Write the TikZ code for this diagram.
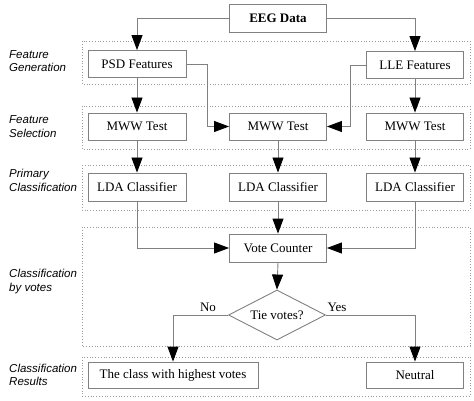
\documentclass[tikz,border=0pt]{standalone}
\usepackage{fontspec}
\setmainfont{Liberation Serif}
\newfontfamily\labfont{Liberation Sans}
\usetikzlibrary{arrows.meta,shapes.geometric}
\definecolor{linegray}{HTML}{808080}
\definecolor{dotgray}{HTML}{9A9A9A}
\begin{document}
\begin{tikzpicture}[x=1pt,y=-1pt,
  box/.style={draw=linegray,line width=0.9pt,rectangle,minimum height=27pt,inner sep=0pt,
    font=\fontsize{13}{15}\selectfont},
  boxn/.style={box,minimum width=97pt},
  grp/.style={draw=dotgray,dotted,line width=0.8pt},
  lab/.style={anchor=west,align=left,inner sep=0pt,font=\labfont\itshape\fontsize{11.5}{13.5}\selectfont},
  conn/.style={draw=linegray,line width=0.9pt,-{Triangle[length=15pt,width=11pt,color=black,fill=black]}},
  yn/.style={inner sep=0pt,font=\fontsize{13}{15}\selectfont}
]
\useasboundingbox (0,0) rectangle (474,401);
% groups
\draw[grp] (82,41) rectangle (470,84);
\draw[grp] (82,106) rectangle (470,149);
\draw[grp] (82,165) rectangle (470,210);
\draw[grp] (82,227) rectangle (470,346);
\draw[grp] (82,357) rectangle (470,396);
% side labels
\node[lab] (l1) at (9,61) {Feature\\Generation};
\node[lab] (l2) at (9,126.5) {Feature\\Selection};
\node[lab] (l3) at (9,180.5) {Primary\\Classification};
\node[lab] (l4) at (9,281.5) {Classification\\by votes};
\node[lab] (l5) at (9,375) {Classification\\Results};
% nodes
\node[boxn,minimum height=28pt] (eeg) at (278,18) {\textbf{EEG Data}};
\node[boxn,minimum width=98pt] (psd) at (137,64) {PSD Features};
\node[boxn] (lle) at (415,65) {LLE Features};
\node[boxn,minimum width=98pt] (mww1) at (137,126.5) {MWW Test};
\node[boxn] (mww2) at (278,126.5) {MWW Test};
\node[boxn] (mww3) at (415,126.5) {MWW Test};
\node[boxn,minimum width=98pt,minimum height=28pt] (lda1) at (137,187) {LDA Classifier};
\node[boxn,minimum height=28pt] (lda2) at (278,187) {LDA Classifier};
\node[boxn,minimum height=28pt] (lda3) at (415,187) {LDA Classifier};
\node[boxn,minimum height=28pt] (vc) at (278,248) {Vote Counter};
\node[draw=linegray,line width=0.9pt,diamond,aspect=1.94,minimum width=97pt,minimum height=50pt,inner sep=0pt,
  font=\fontsize{13}{15}\selectfont] (tie) at (277,315) {Tie votes?};
\node[box,minimum width=170pt,minimum height=26pt] (cls) at (173,375) {The class with highest votes};
\node[boxn,minimum height=26pt] (neu) at (415,375) {Neutral};
% connectors
\draw[conn] (eeg.west) -| (psd.north);
\draw[conn] (eeg.east) -| (lle.north);
\draw[conn] (psd.south) -- (mww1.north);
\draw[conn] (lle.south) -- (mww3.north);
\draw[conn] (psd.east) -- ++(21,0) |- (mww2.west);
\draw[conn] (lle.west) -- ++(-16,0) |- (mww2.east);
\draw[conn] (mww1.south) -- (lda1.north);
\draw[conn] (mww2.south) -- (lda2.north);
\draw[conn] (mww3.south) -- (lda3.north);
\draw[conn] (lda1.south) |- (vc.west);
\draw[conn] (lda3.south) |- (vc.east);
\draw[conn] (lda2.south) -- (vc.north);
\draw[conn] (vc.south) -- (tie.north);
\draw[conn] (tie.west) -| (cls.north);
\draw[conn] (tie.east) -| (neu.north);
\node[yn] (no) at (208,307) {No};
\node[yn] (yes) at (337,307) {Yes};
\end{tikzpicture}
\end{document}
